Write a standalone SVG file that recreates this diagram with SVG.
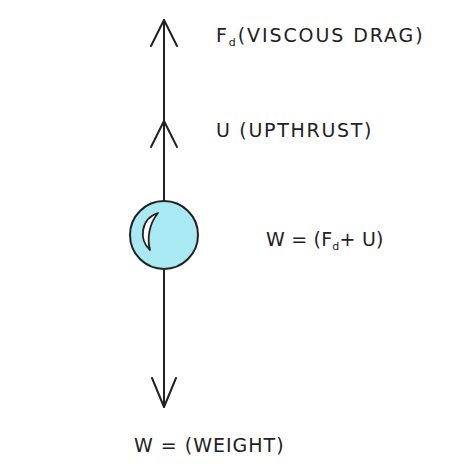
<svg xmlns="http://www.w3.org/2000/svg" width="474" height="464" viewBox="0 0 474 464">
<style>
.ln{stroke:#222;stroke-width:2;fill:none;stroke-linecap:round;stroke-linejoin:round}
.t{font-family:"DejaVu Sans","Liberation Sans",sans-serif;font-size:19px;fill:#222}
.s{font-size:11px}
</style>
<rect width="474" height="464" fill="#fff"/>
<g id="connectors">
<path class="ln" d="M164 20 V201"/>
<path class="ln" d="M151 46 L164 20 L177 46"/>
<path class="ln" d="M151 147 L164 121 L177 147"/>
<path class="ln" d="M164 269 V407"/>
<path class="ln" d="M152 378 L164 407 L176 378"/>
</g>
<g id="sphere">
<circle cx="164" cy="235" r="34" fill="#a8e9f3" stroke="#222" stroke-width="2"/>
<path d="M158 213 C140 219 139 240 150 250 C147 238 149 224 158 213 Z" fill="#fff" stroke="#222" stroke-width="1.8" stroke-linejoin="round"/>
</g>
<g id="label-drag"><text class="t" x="216" y="42" style="letter-spacing:1.9px">F<tspan class="s" dy="4">d</tspan><tspan dy="-4">(VISCOUS DRAG)</tspan></text></g>
<g id="label-upthrust"><text class="t" x="216" y="137" style="letter-spacing:1.7px">U (UPTHRUST)</text></g>
<g id="label-eq"><text class="t" x="266" y="246" style="letter-spacing:0.2px">W = (F<tspan class="s" dy="4">d</tspan><tspan dy="-4">+ U)</tspan></text></g>
<g id="label-weight"><text class="t" x="134" y="452" style="letter-spacing:1px">W = (WEIGHT)</text></g>
</svg>
